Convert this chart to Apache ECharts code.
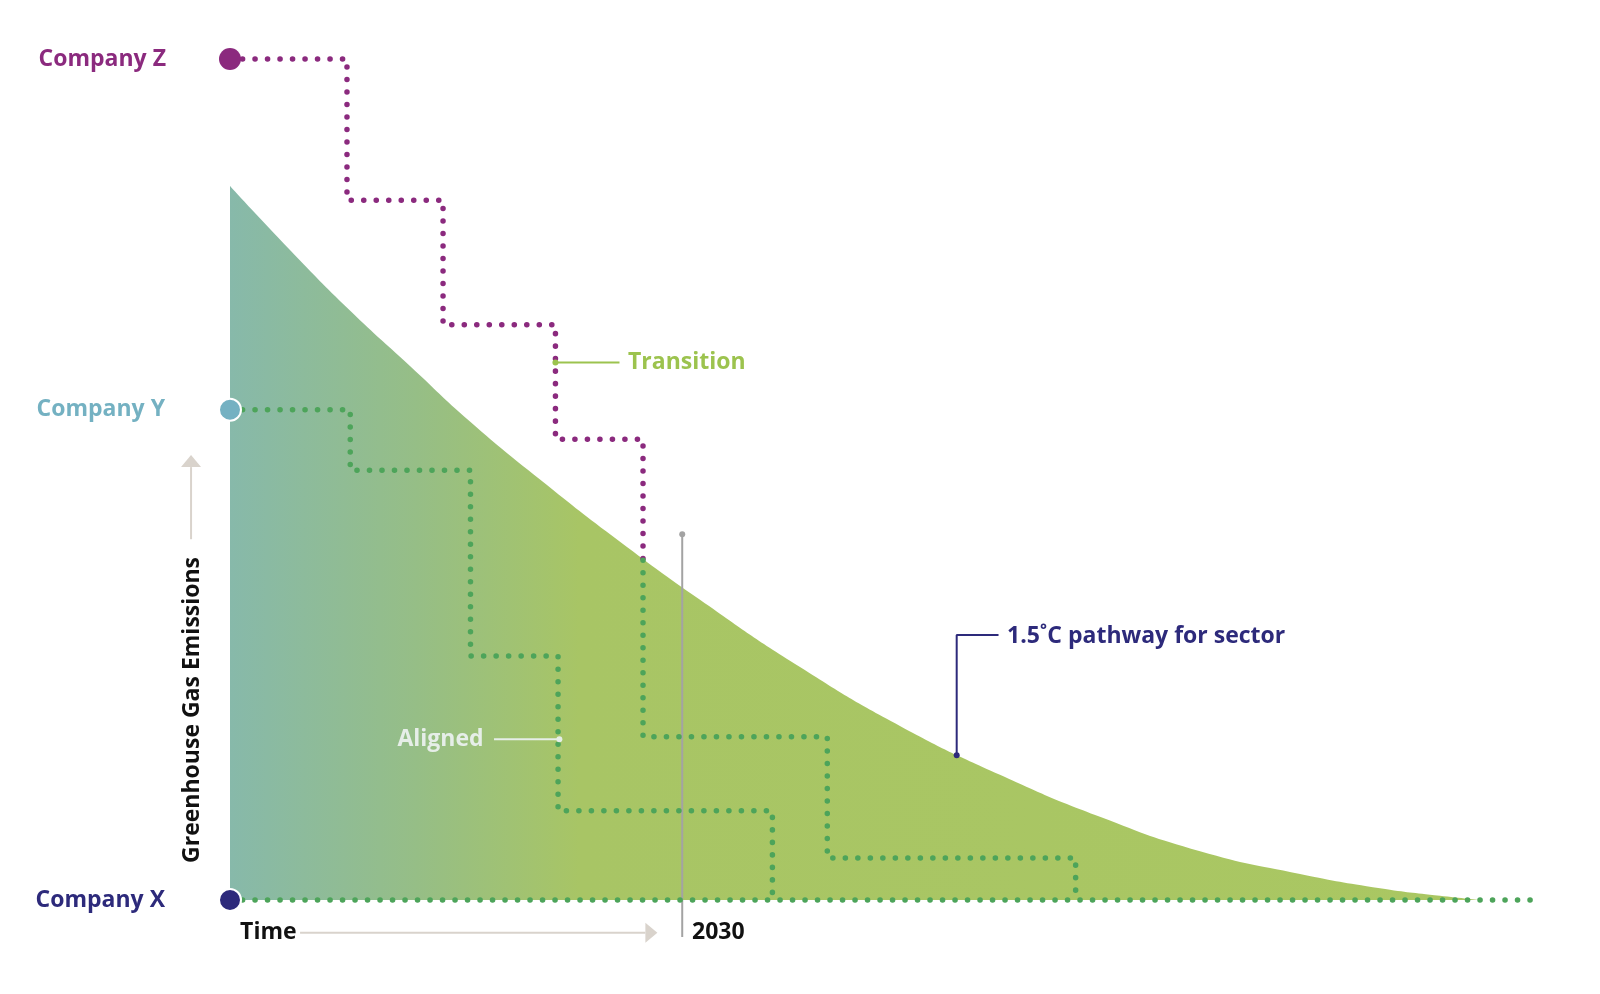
<!DOCTYPE html>
<html><head><meta charset="utf-8">
<script src="https://cdn.jsdelivr.net/npm/echarts@6/dist/echarts.min.js"></script>
<style>html,body{margin:0;padding:0;background:#fff}#c{width:1600px;height:994px}</style>
</head><body><div id="c"></div>
<script>
// ---- data (abstract time 0..100, emissions 0..100) ----
const pathwayX = [0, 4.59, 9.18, 13.77, 18.36, 23.72, 29.84, 35.96, 43.61, 51.26, 58.91, 66.56, 74.22, 81.87, 87.99, 92.58, 95.64];
const pathwayY = [84.9, 77.3, 70.1, 63.5, 56.9, 50.0, 42.6, 35.7, 27.7, 20.7, 14.9, 9.9, 5.8, 3.1, 1.4, 0.5, 0];

const companyNames = ['Company Z', 'Company Y', 'Company X'];
const companyStart = [100, 58.3, 0];

const zAboveX = [0, 8.95, 8.95, 16.3, 16.3, 24.9, 24.9, 31.6, 31.6];
const zAboveY = [100, 100, 83.2, 83.2, 68.4, 68.4, 54.8, 54.8, 40.4];
const zBelowX = [31.6, 31.6, 45.7, 45.7, 64.7, 64.7];
const zBelowY = [40.4, 19.4, 19.4, 5.0, 5.0, 0];

const yPathX = [0, 9.2, 9.2, 18.4, 18.4, 25.1, 25.1, 41.5, 41.5];
const yPathY = [58.3, 58.3, 51.1, 51.1, 29.0, 29.0, 10.6, 10.6, 0];

const xPathX = [0, 100];
const xPathY = [0, 0];

const markerYear = '2030';
const markerYearX = 34.6;

// ---- styling ----
const FONT = 'Open Sans';
const C = {
  z: '#8B2A7E', y: '#74B1C2', x: '#2D2A7B', dots: '#4DA45A',
  transition: '#9CC34E', aligned: '#E6EEE8', grey: '#A3A3A3', arrow: '#D9D3CC', ink: '#111111'
};
const companyColors = [C.z, C.y, C.x];
const zip = (a, b) => a.map((v, i) => [v, b[i]]);
const dotted = (color) => ({ color, width: 5.5, type: [0.1, 12.4], cap: 'round' });
const txt = (size, color) => ({ fontFamily: FONT, fontWeight: 'bold', fontSize: size, color });

const chart = echarts.init(document.getElementById('c'), null, { renderer: 'canvas' });

function pathSeries(name, pts, color, z) {
  return { name, type: 'line', data: pts, showSymbol: false, clip: false, z,
    lineStyle: dotted(color), silent: true };
}
function solidSeries(pts, color, width, z) {
  return { type: 'line', data: pts, clip: false, z, silent: true,
    showSymbol: true, lineStyle: { color, width }, itemStyle: { color, opacity: 1 } };
}
function textSeries(items, z) {
  return { type: 'scatter', clip: false, z: z || 20, silent: true, symbolSize: 0,
    itemStyle: { opacity: 1 },
    data: items.map(it => ({ value: [it.x, it.y],
      label: Object.assign({ show: true, formatter: it.text, position: it.pos || 'right', distance: 0,
        rotate: it.rotate || 0 }, txt(it.size || 23, it.color)) })) };
}
const none = (x, y) => ({ value: [x, y], symbol: 'none' });
const dot = (x, y, s) => ({ value: [x, y], symbol: 'circle', symbolSize: s || 6 });

// arrows: [tailX, tailY, tipX, tipY]
const arrows = [[-2.98, 42.9, -2.98, 52.9], [5.36, -3.9, 32.7, -3.9]];

const series = [
  // 1.5C pathway area
  { type: 'line', data: zip(pathwayX, pathwayY), smooth: 0.5, showSymbol: false, z: 1, silent: true,
    lineStyle: { width: 0 },
    areaStyle: { opacity: 1, color: new echarts.graphic.LinearGradient(0, 0, 1, 0, [
      { offset: 0, color: '#87B9AA' }, { offset: 0.15, color: '#96BE86' },
      { offset: 0.28, color: '#A8C565' }, { offset: 1, color: '#AAC762' }]) } },
  // company paths
  pathSeries('Company X', zip(xPathX, xPathY), C.dots, 5),
  pathSeries('Company Y', zip(yPathX, yPathY), C.dots, 5),
  pathSeries('Company Z', zip(zAboveX, zAboveY), C.z, 5),
  pathSeries('Company Z (aligned)', zip(zBelowX, zBelowY), C.dots, 5),
  // company connectors
  ...companyStart.map((v, i) => solidSeries([none(-4.4, v), none(0, v)], companyColors[i], 2, 6)),
  // company dots + labels
  { type: 'scatter', clip: false, z: 10, silent: true, symbolSize: 22,
    data: companyStart.map((v, i) => ({ value: [0, v],
      itemStyle: { color: companyColors[i], opacity: 1, borderColor: '#fff', borderWidth: i === 0 ? 0 : 2 },
      label: Object.assign({ show: true, formatter: companyNames[i], position: 'left', distance: 53 },
        txt(23, companyColors[i])) })) },
  // annotation connectors
  solidSeries([dot(24.9, 63.9, 6), none(29.8, 63.9)], C.transition, 2, 7),
  solidSeries([none(20.2, 19.1), dot(25.2, 19.1, 6)], C.aligned, 2, 7),
  solidSeries([dot(55.6, 17.2, 6), none(55.6, 31.5), none(58.8, 31.5)], C.x, 2, 7),
  solidSeries([dot(markerYearX, 43.5, 6), none(markerYearX, -4.4)], C.grey, 2, 3),
  // axis arrows
  { type: 'custom', coordinateSystem: 'cartesian2d', clip: false, silent: true, z: 3, data: arrows,
    renderItem(params, api) {
      const p1 = api.coord([api.value(0), api.value(1)]);
      const p2 = api.coord([api.value(2), api.value(3)]);
      const dx = p2[0] - p1[0], dy = p2[1] - p1[1], len = Math.hypot(dx, dy);
      const ux = dx / len, uy = dy / len, hl = 12, hw = 10;
      const b = [p2[0] - ux * hl, p2[1] - uy * hl];
      return { type: 'group', children: [
        { type: 'line', shape: { x1: p1[0], y1: p1[1], x2: b[0], y2: b[1] }, style: { stroke: C.arrow, lineWidth: 2 } },
        { type: 'polygon', shape: { points: [p2, [b[0] - uy * hw, b[1] + ux * hw], [b[0] + uy * hw, b[1] - ux * hw]] },
          style: { fill: C.arrow } }
      ] };
    } },
  // texts
  textSeries([
    { x: 30.45, y: 63.9, text: 'Transition', color: C.transition },
    { x: 19.4, y: 19.1, text: 'Aligned', color: C.aligned, pos: 'left' },
    { x: 59.45, y: 31.3, text: '1.5˚C pathway for sector', color: C.x },
    { x: 35.35, y: -3.8, text: markerYear, color: C.ink },
    { x: 0.77, y: -3.8, text: 'Time', color: C.ink },
    { x: -2.9, y: 22.6, text: 'Greenhouse Gas Emissions', color: C.ink, pos: 'inside', rotate: 90 }
  ])
];

chart.setOption({
  animation: false,
  backgroundColor: '#ffffff',
  grid: { left: 230, right: 63, top: 59, bottom: 94, containLabel: false },
  xAxis: { type: 'value', min: 0, max: 100, show: false },
  yAxis: { type: 'value', min: 0, max: 100, show: false },
  tooltip: { show: false },
  series
});
</script></body></html>
